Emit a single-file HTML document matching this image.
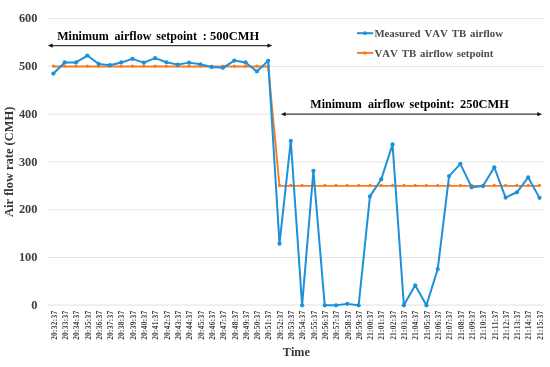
<!DOCTYPE html>
<html><head><meta charset="utf-8"><title>VAV TB airflow</title><style>
html,body{margin:0;padding:0;background:#fff;}
body{width:550px;height:367px;overflow:hidden;}
svg{display:block;}
text{font-family:"Liberation Serif","Times New Roman",serif;font-weight:bold;font-kerning:none;}
.yt{font-size:13px;fill:#404040;}
.xt{font-size:7.4px;fill:#404040;letter-spacing:0.27px;}
.ann{font-size:12.55px;fill:#000;}
.leg{font-size:10.8px;fill:#4a4a4a;word-spacing:1.2px;}
.at{font-size:12.2px;fill:#363636;}
</style></head>
<body><svg width="550" height="367" viewBox="0 0 550 367"><rect width="550" height="367" fill="#fff"/><line x1="47.5" y1="257.53" x2="545" y2="257.53" stroke="#e4e4e4" stroke-width="1"/><line x1="47.5" y1="209.76" x2="545" y2="209.76" stroke="#e4e4e4" stroke-width="1"/><line x1="47.5" y1="161.99" x2="545" y2="161.99" stroke="#e4e4e4" stroke-width="1"/><line x1="47.5" y1="114.22" x2="545" y2="114.22" stroke="#e4e4e4" stroke-width="1"/><line x1="47.5" y1="66.45" x2="545" y2="66.45" stroke="#e4e4e4" stroke-width="1"/><line x1="47.5" y1="18.68" x2="545" y2="18.68" stroke="#e4e4e4" stroke-width="1"/><line x1="47.5" y1="305.10" x2="545" y2="305.10" stroke="#e2e2e2" stroke-width="1"/><text transform="translate(37.4,309.00) scale(0.95,1)" text-anchor="end" class="yt">0</text><text transform="translate(37.4,261.23) scale(0.95,1)" text-anchor="end" class="yt">100</text><text transform="translate(37.4,213.46) scale(0.95,1)" text-anchor="end" class="yt">200</text><text transform="translate(37.4,165.69) scale(0.95,1)" text-anchor="end" class="yt">300</text><text transform="translate(37.4,117.92) scale(0.95,1)" text-anchor="end" class="yt">400</text><text transform="translate(37.4,70.15) scale(0.95,1)" text-anchor="end" class="yt">500</text><text transform="translate(37.4,22.38) scale(0.95,1)" text-anchor="end" class="yt">600</text><text transform="translate(56.65,310.6) rotate(-90)" text-anchor="end" class="xt">20:32:37</text><text transform="translate(67.95,310.6) rotate(-90)" text-anchor="end" class="xt">20:33:37</text><text transform="translate(79.26,310.6) rotate(-90)" text-anchor="end" class="xt">20:34:37</text><text transform="translate(90.56,310.6) rotate(-90)" text-anchor="end" class="xt">20:35:37</text><text transform="translate(101.87,310.6) rotate(-90)" text-anchor="end" class="xt">20:36:37</text><text transform="translate(113.17,310.6) rotate(-90)" text-anchor="end" class="xt">20:37:37</text><text transform="translate(124.48,310.6) rotate(-90)" text-anchor="end" class="xt">20:38:37</text><text transform="translate(135.78,310.6) rotate(-90)" text-anchor="end" class="xt">20:39:37</text><text transform="translate(147.09,310.6) rotate(-90)" text-anchor="end" class="xt">20:40:37</text><text transform="translate(158.40,310.6) rotate(-90)" text-anchor="end" class="xt">20:41:37</text><text transform="translate(169.70,310.6) rotate(-90)" text-anchor="end" class="xt">20:42:37</text><text transform="translate(181.00,310.6) rotate(-90)" text-anchor="end" class="xt">20:43:37</text><text transform="translate(192.31,310.6) rotate(-90)" text-anchor="end" class="xt">20:44:37</text><text transform="translate(203.62,310.6) rotate(-90)" text-anchor="end" class="xt">20:45:37</text><text transform="translate(214.92,310.6) rotate(-90)" text-anchor="end" class="xt">20:46:37</text><text transform="translate(226.22,310.6) rotate(-90)" text-anchor="end" class="xt">20:47:37</text><text transform="translate(237.53,310.6) rotate(-90)" text-anchor="end" class="xt">20:48:37</text><text transform="translate(248.84,310.6) rotate(-90)" text-anchor="end" class="xt">20:49:37</text><text transform="translate(260.14,310.6) rotate(-90)" text-anchor="end" class="xt">20:50:37</text><text transform="translate(271.44,310.6) rotate(-90)" text-anchor="end" class="xt">20:51:37</text><text transform="translate(282.75,310.6) rotate(-90)" text-anchor="end" class="xt">20:52:37</text><text transform="translate(294.06,310.6) rotate(-90)" text-anchor="end" class="xt">20:53:37</text><text transform="translate(305.36,310.6) rotate(-90)" text-anchor="end" class="xt">20:54:37</text><text transform="translate(316.66,310.6) rotate(-90)" text-anchor="end" class="xt">20:55:37</text><text transform="translate(327.97,310.6) rotate(-90)" text-anchor="end" class="xt">20:56:37</text><text transform="translate(339.27,310.6) rotate(-90)" text-anchor="end" class="xt">20:57:37</text><text transform="translate(350.58,310.6) rotate(-90)" text-anchor="end" class="xt">20:58:37</text><text transform="translate(361.88,310.6) rotate(-90)" text-anchor="end" class="xt">20:59:37</text><text transform="translate(373.19,310.6) rotate(-90)" text-anchor="end" class="xt">21:00:37</text><text transform="translate(384.49,310.6) rotate(-90)" text-anchor="end" class="xt">21:01:37</text><text transform="translate(395.80,310.6) rotate(-90)" text-anchor="end" class="xt">21:02:37</text><text transform="translate(407.10,310.6) rotate(-90)" text-anchor="end" class="xt">21:03:37</text><text transform="translate(418.41,310.6) rotate(-90)" text-anchor="end" class="xt">21:04:37</text><text transform="translate(429.71,310.6) rotate(-90)" text-anchor="end" class="xt">21:05:37</text><text transform="translate(441.02,310.6) rotate(-90)" text-anchor="end" class="xt">21:06:37</text><text transform="translate(452.32,310.6) rotate(-90)" text-anchor="end" class="xt">21:07:37</text><text transform="translate(463.63,310.6) rotate(-90)" text-anchor="end" class="xt">21:08:37</text><text transform="translate(474.93,310.6) rotate(-90)" text-anchor="end" class="xt">21:09:37</text><text transform="translate(486.24,310.6) rotate(-90)" text-anchor="end" class="xt">21:10:37</text><text transform="translate(497.54,310.6) rotate(-90)" text-anchor="end" class="xt">21:11:37</text><text transform="translate(508.85,310.6) rotate(-90)" text-anchor="end" class="xt">21:12:37</text><text transform="translate(520.15,310.6) rotate(-90)" text-anchor="end" class="xt">21:13:37</text><text transform="translate(531.46,310.6) rotate(-90)" text-anchor="end" class="xt">21:14:37</text><text transform="translate(542.76,310.6) rotate(-90)" text-anchor="end" class="xt">21:15:37</text><polyline points="53.40,66.45 64.70,66.45 76.01,66.45 87.31,66.45 98.62,66.45 109.92,66.45 121.23,66.45 132.53,66.45 143.84,66.45 155.15,66.45 166.45,66.45 177.75,66.45 189.06,66.45 200.37,66.45 211.67,66.45 222.97,66.45 234.28,66.45 245.59,66.45 256.89,66.45 268.19,66.45 279.50,185.88 290.81,185.88 302.11,185.88 313.41,185.88 324.72,185.88 336.02,185.88 347.33,185.88 358.63,185.88 369.94,185.88 381.24,185.88 392.55,185.88 403.85,185.88 415.16,185.88 426.46,185.88 437.77,185.88 449.07,185.88 460.38,185.88 471.68,185.88 482.99,185.88 494.29,185.88 505.60,185.88 516.90,185.88 528.21,185.88 539.51,185.88" fill="none" stroke="#f67c24" stroke-width="1.9" stroke-linejoin="round"/><circle cx="53.40" cy="66.05" r="1.6" fill="#f67c24"/><circle cx="64.70" cy="66.05" r="1.6" fill="#f67c24"/><circle cx="76.01" cy="66.05" r="1.6" fill="#f67c24"/><circle cx="87.31" cy="66.05" r="1.6" fill="#f67c24"/><circle cx="98.62" cy="66.05" r="1.6" fill="#f67c24"/><circle cx="109.92" cy="66.05" r="1.6" fill="#f67c24"/><circle cx="121.23" cy="66.05" r="1.6" fill="#f67c24"/><circle cx="132.53" cy="66.05" r="1.6" fill="#f67c24"/><circle cx="143.84" cy="66.05" r="1.6" fill="#f67c24"/><circle cx="155.15" cy="66.05" r="1.6" fill="#f67c24"/><circle cx="166.45" cy="66.05" r="1.6" fill="#f67c24"/><circle cx="177.75" cy="66.05" r="1.6" fill="#f67c24"/><circle cx="189.06" cy="66.05" r="1.6" fill="#f67c24"/><circle cx="200.37" cy="66.05" r="1.6" fill="#f67c24"/><circle cx="211.67" cy="66.05" r="1.6" fill="#f67c24"/><circle cx="222.97" cy="66.05" r="1.6" fill="#f67c24"/><circle cx="234.28" cy="66.05" r="1.6" fill="#f67c24"/><circle cx="245.59" cy="66.05" r="1.6" fill="#f67c24"/><circle cx="256.89" cy="66.05" r="1.6" fill="#f67c24"/><circle cx="268.19" cy="66.05" r="1.6" fill="#f67c24"/><circle cx="279.50" cy="185.47" r="1.6" fill="#f67c24"/><circle cx="290.81" cy="185.47" r="1.6" fill="#f67c24"/><circle cx="302.11" cy="185.47" r="1.6" fill="#f67c24"/><circle cx="313.41" cy="185.47" r="1.6" fill="#f67c24"/><circle cx="324.72" cy="185.47" r="1.6" fill="#f67c24"/><circle cx="336.02" cy="185.47" r="1.6" fill="#f67c24"/><circle cx="347.33" cy="185.47" r="1.6" fill="#f67c24"/><circle cx="358.63" cy="185.47" r="1.6" fill="#f67c24"/><circle cx="369.94" cy="185.47" r="1.6" fill="#f67c24"/><circle cx="381.24" cy="185.47" r="1.6" fill="#f67c24"/><circle cx="392.55" cy="185.47" r="1.6" fill="#f67c24"/><circle cx="403.85" cy="185.47" r="1.6" fill="#f67c24"/><circle cx="415.16" cy="185.47" r="1.6" fill="#f67c24"/><circle cx="426.46" cy="185.47" r="1.6" fill="#f67c24"/><circle cx="437.77" cy="185.47" r="1.6" fill="#f67c24"/><circle cx="449.07" cy="185.47" r="1.6" fill="#f67c24"/><circle cx="460.38" cy="185.47" r="1.6" fill="#f67c24"/><circle cx="471.68" cy="185.47" r="1.6" fill="#f67c24"/><circle cx="482.99" cy="185.47" r="1.6" fill="#f67c24"/><circle cx="494.29" cy="185.47" r="1.6" fill="#f67c24"/><circle cx="505.60" cy="185.47" r="1.6" fill="#f67c24"/><circle cx="516.90" cy="185.47" r="1.6" fill="#f67c24"/><circle cx="528.21" cy="185.47" r="1.6" fill="#f67c24"/><circle cx="539.51" cy="185.47" r="1.6" fill="#f67c24"/><polyline points="53.40,73.57 64.70,62.44 76.01,62.44 87.31,55.56 98.62,63.87 109.92,65.16 121.23,62.44 132.53,58.85 143.84,62.63 155.15,58.14 166.45,62.25 177.75,64.63 189.06,62.63 200.37,64.25 211.67,67.07 222.97,67.84 234.28,60.57 245.59,62.44 256.89,71.47 268.19,60.77 279.50,243.68 290.81,140.97 302.11,305.30 313.41,170.78 324.72,305.30 336.02,305.30 347.33,303.87 358.63,305.30 369.94,196.38 381.24,179.19 392.55,144.32 403.85,305.30 415.16,285.24 426.46,305.30 437.77,268.99 449.07,176.08 460.38,163.81 471.68,187.31 482.99,186.11 494.29,167.24 505.60,197.58 516.90,192.28 528.21,177.47 539.51,197.87" fill="none" stroke="#1d90d8" stroke-width="2.0" stroke-linejoin="round"/><circle cx="53.40" cy="73.57" r="2.1" fill="#1d90d8"/><circle cx="64.70" cy="62.44" r="2.1" fill="#1d90d8"/><circle cx="76.01" cy="62.44" r="2.1" fill="#1d90d8"/><circle cx="87.31" cy="55.56" r="2.1" fill="#1d90d8"/><circle cx="98.62" cy="63.87" r="2.1" fill="#1d90d8"/><circle cx="109.92" cy="65.16" r="2.1" fill="#1d90d8"/><circle cx="121.23" cy="62.44" r="2.1" fill="#1d90d8"/><circle cx="132.53" cy="58.85" r="2.1" fill="#1d90d8"/><circle cx="143.84" cy="62.63" r="2.1" fill="#1d90d8"/><circle cx="155.15" cy="58.14" r="2.1" fill="#1d90d8"/><circle cx="166.45" cy="62.25" r="2.1" fill="#1d90d8"/><circle cx="177.75" cy="64.63" r="2.1" fill="#1d90d8"/><circle cx="189.06" cy="62.63" r="2.1" fill="#1d90d8"/><circle cx="200.37" cy="64.25" r="2.1" fill="#1d90d8"/><circle cx="211.67" cy="67.07" r="2.1" fill="#1d90d8"/><circle cx="222.97" cy="67.84" r="2.1" fill="#1d90d8"/><circle cx="234.28" cy="60.57" r="2.1" fill="#1d90d8"/><circle cx="245.59" cy="62.44" r="2.1" fill="#1d90d8"/><circle cx="256.89" cy="71.47" r="2.1" fill="#1d90d8"/><circle cx="268.19" cy="60.77" r="2.1" fill="#1d90d8"/><circle cx="279.50" cy="243.68" r="2.1" fill="#1d90d8"/><circle cx="290.81" cy="140.97" r="2.1" fill="#1d90d8"/><circle cx="302.11" cy="305.30" r="2.1" fill="#1d90d8"/><circle cx="313.41" cy="170.78" r="2.1" fill="#1d90d8"/><circle cx="324.72" cy="305.30" r="2.1" fill="#1d90d8"/><circle cx="336.02" cy="305.30" r="2.1" fill="#1d90d8"/><circle cx="347.33" cy="303.87" r="2.1" fill="#1d90d8"/><circle cx="358.63" cy="305.30" r="2.1" fill="#1d90d8"/><circle cx="369.94" cy="196.38" r="2.1" fill="#1d90d8"/><circle cx="381.24" cy="179.19" r="2.1" fill="#1d90d8"/><circle cx="392.55" cy="144.32" r="2.1" fill="#1d90d8"/><circle cx="403.85" cy="305.30" r="2.1" fill="#1d90d8"/><circle cx="415.16" cy="285.24" r="2.1" fill="#1d90d8"/><circle cx="426.46" cy="305.30" r="2.1" fill="#1d90d8"/><circle cx="437.77" cy="268.99" r="2.1" fill="#1d90d8"/><circle cx="449.07" cy="176.08" r="2.1" fill="#1d90d8"/><circle cx="460.38" cy="163.81" r="2.1" fill="#1d90d8"/><circle cx="471.68" cy="187.31" r="2.1" fill="#1d90d8"/><circle cx="482.99" cy="186.11" r="2.1" fill="#1d90d8"/><circle cx="494.29" cy="167.24" r="2.1" fill="#1d90d8"/><circle cx="505.60" cy="197.58" r="2.1" fill="#1d90d8"/><circle cx="516.90" cy="192.28" r="2.1" fill="#1d90d8"/><circle cx="528.21" cy="177.47" r="2.1" fill="#1d90d8"/><circle cx="539.51" cy="197.87" r="2.1" fill="#1d90d8"/><line x1="51.00" y1="45.6" x2="269.10" y2="45.6" stroke="#3a3a3a" stroke-width="1.3"/><path d="M48.00,45.6 L52.60,43.50 L52.60,47.70 Z" fill="#111"/><path d="M272.10,45.6 L267.50,43.50 L267.50,47.70 Z" fill="#111"/><line x1="284.00" y1="114.2" x2="538.90" y2="114.2" stroke="#3a3a3a" stroke-width="1.3"/><path d="M281.00,114.2 L285.60,112.10 L285.60,116.30 Z" fill="#111"/><path d="M541.90,114.2 L537.30,112.10 L537.30,116.30 Z" fill="#111"/><text transform="translate(57.2,39.6) scale(0.96,1)" class="ann">Minimum</text><text transform="translate(114.6,39.6) scale(0.96,1)" class="ann">airflow</text><text transform="translate(156.2,39.6) scale(0.96,1)" class="ann">setpoint</text><text transform="translate(202.8,39.6) scale(0.96,1)" class="ann">:</text><text transform="translate(210.1,39.6) scale(0.99,1)" class="ann">500CMH</text><text transform="translate(310.3,108.3) scale(0.96,1)" class="ann">Minimum</text><text transform="translate(368.0,108.3) scale(0.96,1)" class="ann">airflow</text><text transform="translate(409.6,108.3) scale(0.96,1)" class="ann">setpoint:</text><text transform="translate(460.0,108.3) scale(0.99,1)" class="ann">250CMH</text><line x1="357" y1="33.2" x2="373.3" y2="33.2" stroke="#1d90d8" stroke-width="2.0"/><circle cx="365.0" cy="33.2" r="1.9" fill="#1d90d8"/><line x1="357" y1="52.9" x2="373.3" y2="52.9" stroke="#f67c24" stroke-width="2"/><circle cx="364.8" cy="53.0" r="1.7" fill="#f67c24"/><text x="374.4" y="37" class="leg">Measured VAV TB airflow</text><text x="374.4" y="56.6" class="leg">VAV TB airflow setpoint</text><text transform="translate(296.3,355.6) scale(0.95,1)" text-anchor="middle" class="at" style="font-size:12.8px">Time</text><text transform="translate(12.9,161.8) rotate(-90)" text-anchor="middle" class="at" style="font-size:12.45px">Air flow rate (CMH)</text></svg></body></html>
